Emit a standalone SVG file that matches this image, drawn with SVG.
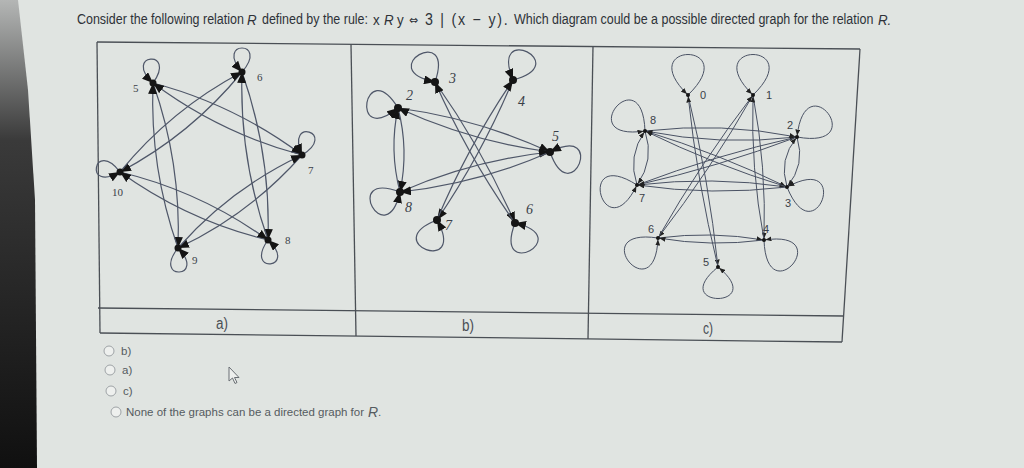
<svg xmlns="http://www.w3.org/2000/svg" width="1024" height="468" viewBox="0 0 1024 468">
<style>
.tt{font-family:"Liberation Sans",Arial,sans-serif;fill:#2e3238;font-size:14px}
.it{font-style:italic}
.tbl{stroke:#4a4f55;stroke-width:1.3;fill:none}
.ea{fill:none;stroke:#4f5769;stroke-width:1.2;marker-end:url(#ma)}
.eb{fill:none;stroke:#4f5769;stroke-width:1.2;marker-end:url(#ma)}
.ec{fill:none;stroke:#4a5264;stroke-width:1;marker-end:url(#mc)}
.la{font-family:"Liberation Serif","Times New Roman",serif;font-size:11px;fill:#3a3f48}
.lb{font-family:"Liberation Serif","Times New Roman",serif;font-style:italic;font-size:14px;fill:#3a3f48}
.lc{font-family:"Liberation Sans",Arial,sans-serif;font-size:11px;fill:#3a3f48}
.cap{font-family:"Liberation Sans",Arial,sans-serif;font-size:16px;fill:#4a4f55}
.opt{font-family:"Liberation Sans",Arial,sans-serif;font-size:11.5px;fill:#555b60}
.rad{fill:#eef0ee;stroke:#9ea3a6;stroke-width:1}
.dot{fill:#151515}
</style>
<defs>
<marker id="ma" markerWidth="11" markerHeight="9" refX="11" refY="4.5" orient="auto" markerUnits="userSpaceOnUse"><path d="M0,0 L11,4.5 L0,9 z" fill="#141414"/></marker>
<marker id="mc" markerWidth="6" markerHeight="5" refX="7.5" refY="2.5" orient="auto" markerUnits="userSpaceOnUse"><path d="M0,0 L6,2.5 L0,5 z" fill="#222"/></marker>
<linearGradient id="lg" x1="0" y1="0" x2="0" y2="1"><stop offset="0" stop-color="#b4b6b5"/><stop offset="0.3" stop-color="#3a3a3a"/><stop offset="1" stop-color="#101010"/></linearGradient>
</defs>
<rect width="1024" height="468" fill="#e0e4e1"/>
<polygon points="0,0 18,0 28,90 35,200 37,468 0,468" fill="url(#lg)"/>

<g id="title">
<text class="tt" y="24" transform="scale(0.89 1)"><tspan x="86.5">Consider the following relation</tspan><tspan x="277.5" y="25" class="it" font-size="15">R</tspan><tspan x="294.4" y="24">defined by the rule:</tspan><tspan x="419.1" y="25" font-size="15">x</tspan><tspan x="431.5" class="it" font-size="15">R</tspan><tspan x="446.1" font-size="15">y</tspan><tspan x="459.6" y="24" font-size="12" font-family="DejaVu Sans, sans-serif">⇔</tspan><tspan x="477.5" y="25" font-size="16" textLength="93" lengthAdjust="spacing">3 | (x − y).</tspan><tspan x="577.5" y="24">Which diagram could be a possible directed graph for the relation</tspan><tspan x="986.5" y="25" class="it" font-size="15">R.</tspan></text>
</g>

<g id="table">
<line class="tbl" x1="97" y1="42" x2="860" y2="49"/>
<line class="tbl" x1="97" y1="42" x2="100" y2="333"/>
<line class="tbl" x1="860" y1="49" x2="842" y2="342"/>
<line class="tbl" x1="100" y1="333" x2="842" y2="342"/>
<line class="tbl" x1="98" y1="308" x2="843" y2="316"/>
<line class="tbl" x1="351" y1="44" x2="356" y2="336"/>
<line class="tbl" x1="593" y1="46" x2="588" y2="339"/>
<text class="cap" x="216" y="329" textLength="12" lengthAdjust="spacingAndGlyphs">a)</text>
<text class="cap" x="462" y="331" textLength="12" lengthAdjust="spacingAndGlyphs">b)</text>
<text class="cap" x="703" y="334" textLength="10" lengthAdjust="spacingAndGlyphs">c)</text>
</g>

<g id="connectors">
<!-- graph a -->
<path class="ea" d="M153,83 Q234.5,104.6 302,155"/>
<path class="ea" d="M302,155 Q220.5,133.4 153,83"/>
<path class="ea" d="M153,83 Q181.3,163.1 178,248"/>
<path class="ea" d="M178,248 Q149.7,167.9 153,83"/>
<path class="ea" d="M242,72 Q191.1,134.4 120,172"/>
<path class="ea" d="M120,172 Q170.9,109.6 242,72"/>
<path class="ea" d="M242,72 Q270.8,153.6 268,240"/>
<path class="ea" d="M268,240 Q239.2,158.4 242,72"/>
<path class="ea" d="M302,155 Q249.6,214.3 178,248"/>
<path class="ea" d="M178,248 Q230.4,188.7 302,155"/>
<path class="ea" d="M120,172 Q200.7,191.5 268,240"/>
<path class="ea" d="M268,240 Q187.3,220.5 120,172"/>
<path class="ea" d="M153,83 C177.7,48.4 121.9,54 153,83"/>
<path class="ea" d="M242,72 C270,40 214,40 242,72"/>
<path class="ea" d="M302,155 C338.3,132.9 284.9,116.1 302,155"/>
<path class="ea" d="M268,240 C243.3,274.6 299.1,269 268,240"/>
<path class="ea" d="M178,248 C151.6,281.4 207.6,278.6 178,248"/>
<path class="ea" d="M120,172 C94.1,138.2 83.1,193.2 120,172"/>
<!-- graph b -->
<path class="eb" d="M398,108 Q477.3,118.5 550,152"/>
<path class="eb" d="M550,152 Q470.7,141.5 398,108"/>
<path class="eb" d="M400,192 Q471.9,160.4 550,152"/>
<path class="eb" d="M550,152 Q478.1,183.6 400,192"/>
<path class="eb" d="M398,108 Q409,149.8 400,192"/>
<path class="eb" d="M400,192 Q389,150.2 398,108"/>
<path class="eb" d="M435,82 Q482,148.5 515,223"/>
<path class="eb" d="M515,223 Q468,156.5 435,82"/>
<path class="eb" d="M513,80 Q482,153.8 437,220"/>
<path class="eb" d="M437,220 Q468,146.2 513,80"/>
<path class="eb" d="M435,82 C455.8,21.5 372.2,69.5 435,82"/>
<path class="eb" d="M513,80 C574.7,64 488.9,21 513,80"/>
<path class="eb" d="M398,108 C364.8,53.6 348.4,148.2 398,108"/>
<path class="eb" d="M550,152 C571.3,212.1 606.9,122.9 550,152"/>
<path class="eb" d="M400,192 C340.4,169.5 385.6,253.9 400,192"/>
<path class="eb" d="M437,220 C377.6,243.2 467.8,275.8 437,220"/>
<path class="eb" d="M515,223 C492.5,282.6 576.9,237.4 515,223"/>
<!-- graph c -->
<path class="ec" d="M645,131 Q721.5,122 797,137"/>
<path class="ec" d="M797,137 Q720.5,146 645,131"/>
<path class="ec" d="M637,185 Q712.1,176 787,187"/>
<path class="ec" d="M787,187 Q711.9,196 637,185"/>
<path class="ec" d="M645,131 Q718.2,153.4 787,187"/>
<path class="ec" d="M787,187 Q713.8,164.6 645,131"/>
<path class="ec" d="M637,185 Q715.3,155.3 797,137"/>
<path class="ec" d="M797,137 Q718.7,166.7 637,185"/>
<path class="ec" d="M645,131 Q654.8,160 637,185"/>
<path class="ec" d="M637,185 Q627.2,156 645,131"/>
<path class="ec" d="M797,137 Q805.7,164.7 787,187"/>
<path class="ec" d="M787,187 Q778.3,159.3 797,137"/>
<path class="ec" d="M658,238 Q711.2,231 764,240"/>
<path class="ec" d="M764,240 Q710.8,247 658,238"/>
<path class="ec" d="M688,95 Q708.9,180 718,267"/>
<path class="ec" d="M718,267 Q697.1,182 688,95"/>
<path class="ec" d="M753,95 Q766.5,166.9 764,240"/>
<path class="ec" d="M764,240 Q750.5,168.1 753,95"/>
<path class="ec" d="M753,95 Q710.5,169.8 658,238"/>
<path class="ec" d="M658,238 Q700.5,163.2 753,95"/>
<path class="ec" d="M688,95 C744,41 632,41 688,95"/>
<path class="ec" d="M753,95 C809,41 697,41 753,95"/>
<path class="ec" d="M645,131 C642.3,55.9 570.7,142.1 645,131"/>
<path class="ec" d="M797,137 C872.2,150.6 805,61 797,137"/>
<path class="ec" d="M637,185 C573.9,144.7 604.1,252.3 637,185"/>
<path class="ec" d="M787,187 C815,256.6 853,151.4 787,187"/>
<path class="ec" d="M658,238 C583.7,226.9 655.3,313.1 658,238"/>
<path class="ec" d="M764,240 C766.7,315.1 838.3,228.9 764,240"/>
<path class="ec" d="M718,267 C666,309 770,309 718,267"/>
</g>

<g id="graph-a">
<g id="a5"><circle class="dot" cx="153" cy="83" r="3.5"/><text class="la" x="133" y="92">5</text></g>
<g id="a6"><circle class="dot" cx="242" cy="72" r="3.5"/><text class="la" x="257" y="81">6</text></g>
<g id="a7"><circle class="dot" cx="302" cy="155" r="3.5"/><text class="la" x="308" y="174">7</text></g>
<g id="a8"><circle class="dot" cx="268" cy="240" r="3.5"/><text class="la" x="285" y="244">8</text></g>
<g id="a9"><circle class="dot" cx="178" cy="248" r="3.5"/><text class="la" x="192" y="264">9</text></g>
<g id="a10"><circle class="dot" cx="120" cy="172" r="3.5"/><text class="la" x="112" y="196">10</text></g>
</g>
<g id="graph-b">
<g id="b2"><circle class="dot" cx="398" cy="108" r="4"/><text class="lb" x="406" y="100">2</text></g>
<g id="b3"><circle class="dot" cx="435" cy="82" r="4"/><text class="lb" x="449" y="83">3</text></g>
<g id="b4"><circle class="dot" cx="513" cy="80" r="4"/><text class="lb" x="518" y="106">4</text></g>
<g id="b5"><circle class="dot" cx="550" cy="152" r="4"/><text class="lb" x="552" y="141">5</text></g>
<g id="b6"><circle class="dot" cx="515" cy="223" r="4"/><text class="lb" x="526" y="214">6</text></g>
<g id="b7"><circle class="dot" cx="437" cy="220" r="4"/><text class="lb" x="445" y="230">7</text></g>
<g id="b8"><circle class="dot" cx="400" cy="192" r="4"/><text class="lb" x="405" y="212">8</text></g>
</g>
<g id="graph-c">
<g id="c0"><circle class="dot" cx="688" cy="95" r="2"/><text class="lc" x="700" y="99">0</text></g>
<g id="c1"><circle class="dot" cx="753" cy="95" r="2"/><text class="lc" x="766" y="99">1</text></g>
<g id="c2"><circle class="dot" cx="797" cy="137" r="2"/><text class="lc" x="787" y="129">2</text></g>
<g id="c3"><circle class="dot" cx="787" cy="187" r="2"/><text class="lc" x="785" y="207">3</text></g>
<g id="c4"><circle class="dot" cx="764" cy="240" r="2"/><text class="lc" x="763" y="233">4</text></g>
<g id="c5"><circle class="dot" cx="718" cy="267" r="2"/><text class="lc" x="703" y="266">5</text></g>
<g id="c6"><circle class="dot" cx="658" cy="238" r="2"/><text class="lc" x="648" y="233">6</text></g>
<g id="c7"><circle class="dot" cx="637" cy="185" r="2"/><text class="lc" x="639" y="202">7</text></g>
<g id="c8"><circle class="dot" cx="645" cy="131" r="2"/><text class="lc" x="650" y="124">8</text></g>
</g>

<g id="options">
<circle class="rad" cx="109" cy="351" r="5"/><text class="opt" x="121" y="355">b)</text>
<circle class="rad" cx="110" cy="370" r="5"/><text class="opt" x="122" y="374">a)</text>
<circle class="rad" cx="111" cy="391" r="5"/><text class="opt" x="123" y="395">c)</text>
<circle class="rad" cx="116" cy="412" r="5"/><text class="opt" y="416"><tspan x="126" textLength="238" lengthAdjust="spacingAndGlyphs">None of the graphs can be a directed graph for</tspan><tspan x="368" y="417" class="it" font-size="14">R</tspan><tspan x="378" y="416">.</tspan></text>
</g>
<path d="M229,367 L229,381 L232.5,378 L235,383.5 L237,382.5 L234.5,377.5 L239,377.5 Z" fill="#eef0ee" stroke="#6a6f74" stroke-width="1"/>
</svg>
